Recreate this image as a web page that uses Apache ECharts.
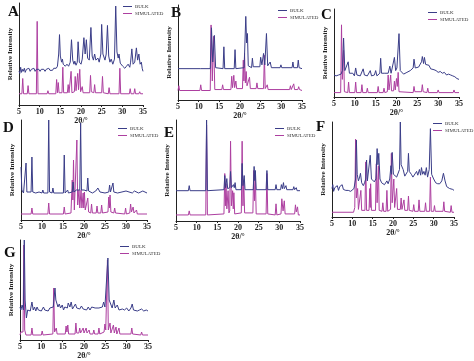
<!DOCTYPE html>
<html><head><meta charset="utf-8">
<script src="https://cdn.jsdelivr.net/npm/echarts@6/dist/echarts.min.js"></script>
<style>html,body{margin:0;padding:0;background:#fff}#c{width:474px;height:361px}</style>
</head><body><div id="c"></div>
<script>
// ---- DATA (2θ, relative intensity 0-100) ----
const panelLetters = ['A','B','C','D','E','F','G'];
const xTicks = [5,10,15,20,25,30,35];
const seriesNames = ['BULK','SIMULATED'];

const A_bulk = [5.0,33,5.2,31,5.4,37,5.6,32,5.8,35,6.0,33,6.3,36,6.5,32,6.8,35,7.1,34,7.4,36,7.7,33,8.0,35,8.3,34,8.6,36,8.9,33,9.2,35,9.5,34,9.8,35,10.1,33,10.4,35,10.7,34,11.0,35,11.3,33,11.6,35,11.9,34,12.2,36,12.5,34,12.8,35,13.1,34,13.4,36,13.7,35,14.0,36,14.3,38,14.6,50,14.8,69,15.0,48,15.3,42,15.5,45,15.7,40,16.2,38,16.6,40,17.0,38,17.4,42,17.7,64,18.0,44,18.3,40,18.5,43,18.8,39,19.1,42,19.3,62,19.6,42,20.0,40,20.3,45,20.7,66,21.0,50,21.3,64,21.6,46,22.0,44,22.4,76,22.7,48,23.0,44,23.3,50,23.6,44,24.1,46,24.4,42,24.8,50,25.0,79,25.3,50,25.8,44,26.1,50,26.4,78,26.7,48,27.0,42,27.3,45,27.7,40,28.1,45,28.4,97,28.7,52,29.0,46,29.2,50,29.5,41,30.1,38,30.6,36,31.0,38,31.4,40,31.8,37,32.0,42,32.3,55,32.6,40,33.0,42,33.4,56,33.7,44,34.0,50,34.3,40,34.6,42,34.8,36,35.0,33];
const A_sim = [5.0,11,5.7,11,5.9,26,6.1,11,7.0,11,7.2,19,7.4,11,9.2,11,9.4,82,9.6,11,11.8,11,12.0,14,12.2,11,13.9,11,14.1,25,14.3,12,14.5,22,14.7,12,15.4,12,15.6,37,15.8,12,16.7,12,16.9,20,17.1,12,17.4,12,17.6,33,17.8,12,18.4,13,18.6,28,18.8,14,19.0,14,19.2,31,19.4,15,19.5,15,19.7,35,19.9,13,20.1,12,20.3,18,20.5,12,22.1,12,22.3,29,22.5,13,23.1,12,23.3,20,23.5,12,25.0,12,25.2,28,25.4,12,26.6,11,26.8,17,27.0,11,29.2,11,29.4,36,29.6,11,31.7,11,31.9,16,32.1,11,32.8,11,33.0,16,33.2,11,34.0,11,34.2,13,34.4,11,35.0,11];

const B_bulk = [5.0,33,10.5,33,10.7,35,10.9,33,12.8,33,13.1,76,13.4,40,13.8,68,14.1,34,15.9,33,16.1,56,16.3,33,18.6,33,18.8,53,19.0,33,21.0,34,21.4,88,21.6,60,21.8,70,22.0,36,22.8,34,23.0,44,23.2,35,24.8,35,25.0,45,25.3,37,25.7,49,26.0,37,26.4,70,26.7,36,27.3,40,27.6,34,29.7,34,29.9,37,30.1,34,32.6,34,32.8,40,33.0,34,33.9,34,34.1,42,34.3,34,35.0,33];
const B_sim = [5.0,10,5.2,15,5.4,10,10.3,10,10.5,16,10.7,10,12.8,10,13.0,79,13.3,20,13.6,67,13.9,11,15.6,11,15.8,16,16.0,11,17.8,11,18.0,25,18.2,13,18.5,26,18.7,13,19.0,20,19.2,12,20.6,12,20.8,42,20.95,20,21.1,49,21.3,18,21.5,30,21.7,15,22.3,24,22.5,12,23.9,12,24.1,18,24.3,12,25.7,12,25.9,47,26.1,12,26.6,16,26.8,11,32.0,11,32.2,15,32.4,11,32.8,11,33.0,17,33.2,11,34.0,11,34.2,14,34.4,11,35.0,10];

const C_bulk = [5.0,25,5.2,27,5.5,24,5.8,26,6.1,25,6.4,27,6.7,26,7.0,30,7.3,67,7.6,30,8.0,28,8.4,40,8.7,27,9.1,25,9.5,27,9.9,24,10.2,33,10.5,25,10.9,27,11.3,24,11.7,26,12.0,32,12.3,25,12.7,27,13.0,24,13.4,26,13.7,30,14.0,24,14.4,26,14.7,25,15.0,30,15.3,24,15.7,26,16.0,27,16.2,44,16.4,27,16.8,25,17.2,27,17.6,25,18.0,27,18.4,35,18.7,27,19.1,29,19.5,45,19.8,30,20.1,33,20.6,72,20.9,30,21.3,30,21.7,26,22.1,28,22.5,28,22.9,26,23.3,30,23.7,29,24.0,33,24.2,43,24.5,33,24.9,32,25.3,34,25.7,36,26.0,40,26.2,46,26.5,38,26.7,45,27.0,37,27.4,35,27.8,36,28.2,32,28.6,30,29.0,31,29.5,30,30.0,28,30.5,29,31.0,27,31.5,28,32.0,25,32.5,26,33.0,25,33.5,24,34.0,23,34.5,21,35.0,20];
const C_sim = [5.0,5,6.6,5,6.8,82,7.0,20,7.3,53,7.5,6,8.3,5,8.5,17,8.7,5,10.0,5,10.2,17,10.4,5,11.5,5,11.7,14,11.9,5,12.8,5,13.0,10,13.2,5,15.4,5,15.6,12,15.8,5,16.8,5,17.0,10,17.2,5,17.8,6,18.0,25,18.2,8,18.4,10,18.6,25,18.8,7,19.3,7,19.5,18,19.7,8,19.9,10,20.0,21,20.2,12,20.4,28,20.6,6,24.0,5,24.2,12,24.4,6,26.0,6,26.2,14,26.4,6,27.3,5,27.5,10,27.7,5,29.8,5,30.0,8,30.2,5,33.6,5,33.8,8,34.0,5,35.0,5];

const D_bulk = [5.0,53,5.2,30,5.6,27,6.0,28,6.2,57,6.4,28,6.8,27,7.4,28,7.6,63,7.8,28,8.5,27,9.3,28,10.0,27,10.2,30,10.4,27,11.4,27,11.6,100,11.8,28,12.4,27,12.6,32,12.8,27,14.5,27,15.1,27,15.3,65,15.5,27,16.1,30,16.3,27,17.2,28,17.4,38,17.6,28,18.2,30,18.6,28,19.0,30,19.2,97,19.4,30,20.0,30,20.7,29,20.9,42,21.1,29,22.0,27,22.8,29,23.3,32,23.8,28,25.0,27,25.9,28,26.1,35,26.3,28,26.7,28,26.9,37,27.1,28,28.0,27,30.0,29,30.3,27,31.5,27,32.0,29,32.3,27,33.0,27,34.0,29,34.3,27,35.0,27];
const D_sim = [5.0,6,7.4,6,7.6,12,7.8,6,11.4,6,11.6,17,11.8,6,15.1,6,15.3,13,15.5,6,16.9,7,17.2,40,17.35,20,17.5,60,17.7,10,18.1,10,18.3,80,18.5,15,18.8,30,19.0,12,19.3,30,19.5,12,19.8,27,19.95,12,20.1,28,20.3,10,20.7,8,20.9,22,21.1,8,21.6,7,21.8,16,22.0,7,22.9,7,23.1,14,23.3,7,24.0,7,24.2,15,24.4,7,25.7,8,25.9,23,26.05,12,26.2,25,26.4,8,27.1,7,27.3,12,27.5,7,29.7,6,29.9,12,30.1,6,30.9,7,31.1,16,31.3,8,31.5,8,31.7,13,31.9,7,32.3,6,32.5,10,32.7,6,35.0,6];

const E_bulk = [5.0,30,8.0,30,8.2,35,8.4,30,12.2,30,12.4,100,12.6,30,16.6,31,16.8,45,17.0,33,17.3,42,17.5,32,18.0,33,18.2,49,18.4,33,18.9,36,19.1,33,19.3,38,19.5,31,20.8,31,21.0,57,21.2,35,21.5,45,21.7,31,23.7,31,23.9,54,24.05,40,24.2,50,24.4,31,26.8,31,27.0,50,27.2,31,29.0,31,29.2,36,29.4,31,30.3,31,30.5,36,30.75,32,31.0,38,31.2,32,31.6,35,31.8,31,33.3,31,33.5,34,33.7,31,34.1,33,34.3,30,35.0,30];
const E_sim = [5.0,6,8.0,6,8.2,10,8.4,6,12.2,6,12.4,95,12.6,6,16.6,7,16.8,47,16.95,15,17.1,37,17.3,12,17.6,30,17.8,8,18.0,10,18.2,79,18.4,15,18.7,30,18.85,12,19.0,28,19.2,7,20.8,8,21.0,79,21.2,15,21.4,40,21.6,8,23.6,8,23.8,50,24.0,20,24.2,45,24.4,7,26.8,7,27.0,47,27.2,7,29.0,6,29.2,17,29.4,6,30.4,7,30.6,22,30.9,10,31.2,20,31.4,7,33.7,7,33.9,16,34.1,9,34.4,14,34.6,6,35.0,6];

const F_bulk = [5.0,30,5.2,34,5.4,27,5.7,31,6.0,29,6.3,33,6.6,28,6.9,32,7.2,30,7.5,34,7.8,29,8.1,31,8.4,28,8.7,30,9.0,28,9.3,29,9.6,27,10.0,28,10.4,30,10.8,40,11.0,81,11.2,45,11.5,38,11.8,42,12.0,46,12.3,36,12.7,33,13.0,36,13.3,40,13.5,60,13.7,38,14.0,36,14.4,65,14.7,40,15.0,40,15.4,37,15.8,40,16.1,72,16.3,55,16.5,67,16.8,40,17.2,36,17.5,35,17.9,34,18.3,36,18.5,38,18.8,35,19.2,40,19.5,54,19.65,45,19.8,68,20.1,45,20.5,45,20.9,42,21.3,42,21.6,50,21.8,100,22.0,55,22.5,50,22.9,43,23.3,42,23.6,48,23.8,67,24.0,48,24.5,45,24.9,42,25.3,44,25.8,48,26.1,44,26.5,50,26.8,44,27.0,52,27.3,45,27.6,48,27.9,44,28.2,52,28.5,42,28.9,50,29.2,93,29.5,45,30.0,40,30.5,36,31.0,35,31.5,35,32.0,38,32.4,46,32.8,38,33.2,32,33.5,30,33.9,30,34.3,32,34.7,29,35.0,28];
const F_sim = [5.0,5,10.3,5,10.6,10,10.8,82,11.0,20,11.3,30,11.5,8,11.9,8,12.1,28,12.3,7,13.1,7,13.3,58,13.5,7,14.1,7,14.3,30,14.4,10,14.5,35,14.7,7,15.7,7,15.9,56,16.1,15,16.4,54,16.6,7,17.3,6,17.5,15,17.7,6,18.3,6,18.5,28,18.7,6,19.4,8,19.6,67,19.8,15,20.2,40,20.4,10,20.9,30,21.1,8,21.8,8,22.0,20,22.2,8,22.5,8,22.7,18,22.9,7,23.6,7,23.8,22,24.0,7,24.9,6,25.1,13,25.3,6,26.2,6,26.4,18,26.6,6,27.8,6,28.0,15,28.2,6,29.0,6,29.2,42,29.4,6,30.0,6,30.2,12,30.4,6,32.3,6,32.5,16,32.7,6,34.1,5,34.3,12,34.5,5,35.0,5];

const G_bulk = [5.0,33,5.2,30,5.5,35,5.8,30,6.0,100,6.2,40,6.5,22,6.8,30,7.1,32,7.4,29,7.8,38,8.1,30,8.4,33,8.7,29,9.0,33,9.3,30,9.6,32,10.0,29,10.5,33,10.8,30,11.2,32,11.6,29,12.0,32,12.4,30,12.8,33,13.2,52,13.4,40,13.6,42,13.9,33,14.2,36,14.5,32,14.9,35,15.2,30,15.5,33,15.8,35,16.1,32,16.3,37,16.5,39,16.7,33,17.0,38,17.3,31,17.7,33,18.0,36,18.3,32,18.6,34,19.0,31,19.4,34,19.8,31,20.2,33,20.6,30,21.0,33,21.4,30,21.8,33,22.2,31,22.6,32,23.0,30,23.5,32,23.9,30,24.3,33,24.6,38,24.9,33,25.2,35,25.6,82,25.9,40,26.3,38,26.6,32,27.0,40,27.3,32,27.8,35,28.2,30,28.6,32,29.0,31,29.5,30,30.0,32,30.5,29,31.0,32,31.3,36,31.6,30,32.0,31,32.5,29,33.0,30,33.5,31,34.0,29,34.6,30,35.0,29];
const G_sim = [5.0,5,5.2,8,5.3,10,5.5,6,5.7,8,5.9,95,6.1,10,6.4,5,7.6,5,7.8,12,8.0,5,10.0,5,10.2,9,10.4,5,12.7,6,12.9,52,13.1,8,13.5,12,13.7,6,15.6,6,15.8,14,16.0,8,16.2,15,16.4,6,17.9,6,18.1,17,18.3,7,18.8,7,19.0,12,19.2,7,19.6,7,19.8,12,20.0,7,20.3,7,20.5,12,20.7,7,21.0,6,21.2,10,21.4,6,22.1,6,22.3,10,22.5,6,23.3,6,23.5,12,23.7,6,24.7,8,24.9,16,25.1,10,25.3,12,25.5,80,25.7,10,26.1,17,26.3,7,26.7,7,26.9,15,27.1,7,27.3,7,27.5,13,27.7,6,28.0,6,28.2,12,28.4,6,31.0,6,31.2,12,31.4,6,33.3,5,33.5,8,33.7,5,35.0,5];

const bulkData = [A_bulk,B_bulk,C_bulk,D_bulk,E_bulk,F_bulk,G_bulk];
const simData = [A_sim,B_sim,C_sim,D_sim,E_sim,F_sim,G_sim];

// ---- LAYOUT (pixels) ----
const layout = [
  {l:19, t:3,   w:124, h:102, lg:[123,4],   lt:[8,5],    ng:8},
  {l:178,t:5,   w:124, h:95,  lg:[278,8],   lt:[171,6],  ng:8},
  {l:334,t:9,   w:125, h:88,  lg:[428,10],  lt:[321,8],  ng:10},
  {l:21, t:120, w:126, h:100, lg:[118,126], lt:[3,121],  ng:11},
  {l:176,t:120, w:124, h:101, lg:[275,126], lt:[164,126],ng:10},
  {l:332,t:122, w:122, h:95,  lg:[433,121], lt:[316,120],ng:9},
  {l:20, t:240, w:128, h:100, lg:[120,244], lt:[4,246],  ng:12}
];
const BULK_COLOR = '#3a3d88';
const SIM_COLOR = '#ad3fa0';
const SERIF = '"Liberation Serif","DejaVu Serif",serif';

function pairs(a){const r=[];for(let i=0;i<a.length;i+=2)r.push([a[i],a[i+1]]);return r;}

const grid=[],xAxis=[],yAxis=[],series=[],legend=[],graphic=[];
layout.forEach((p,i)=>{
  grid.push({left:p.l,top:p.t,width:p.w,height:p.h,containLabel:false});
  xAxis.push({type:'value',gridIndex:i,min:xTicks[0],max:xTicks[xTicks.length-1],interval:5,
    name:'2θ/°',nameLocation:'middle',nameGap:p.ng,
    nameTextStyle:{fontFamily:SERIF,fontWeight:'bold',fontSize:8,color:'#222'},
    axisLine:{show:true,onZero:false,lineStyle:{color:'#222',width:1}},
    axisTick:{show:true,length:2,lineStyle:{color:'#222'}},
    axisLabel:{fontFamily:SERIF,fontWeight:'bold',fontSize:8,color:'#222',margin:3},
    splitLine:{show:false}});
  yAxis.push({type:'value',gridIndex:i,min:0,max:100,
    name:'Relative Intensity',nameLocation:'middle',nameGap:5,nameRotate:90,
    nameTextStyle:{fontFamily:SERIF,fontWeight:'bold',fontSize:7,color:'#222'},
    axisLine:{show:true,lineStyle:{color:'#222',width:1}},
    axisTick:{show:false},axisLabel:{show:false},splitLine:{show:false}});
  series.push({name:seriesNames[0],type:'line',xAxisIndex:i,yAxisIndex:i,data:pairs(bulkData[i]),
    symbol:'none',lineStyle:{color:BULK_COLOR,width:1},itemStyle:{color:BULK_COLOR},z:3});
  series.push({name:seriesNames[1],type:'line',xAxisIndex:i,yAxisIndex:i,data:pairs(simData[i]),
    symbol:'none',lineStyle:{color:SIM_COLOR,width:1},itemStyle:{color:SIM_COLOR},z:2});
  legend.push({left:p.lg[0],top:p.lg[1],orient:'vertical',itemGap:2,itemWidth:9,itemHeight:1,
    icon:'rect',data:seriesNames,selectedMode:false,padding:0,
    textStyle:{fontFamily:SERIF,fontSize:5,color:'#333',padding:[0,0,0,-2]}});
  graphic.push({type:'text',left:p.lt[0],top:p.lt[1],
    style:{text:panelLetters[i],font:'bold 15px '+SERIF,fill:'#111'}});
});

const chart=echarts.init(document.getElementById('c'),null,{renderer:'canvas'});
chart.setOption({animation:false,backgroundColor:'#fff',grid,xAxis,yAxis,series,legend,graphic});
</script></body></html>
